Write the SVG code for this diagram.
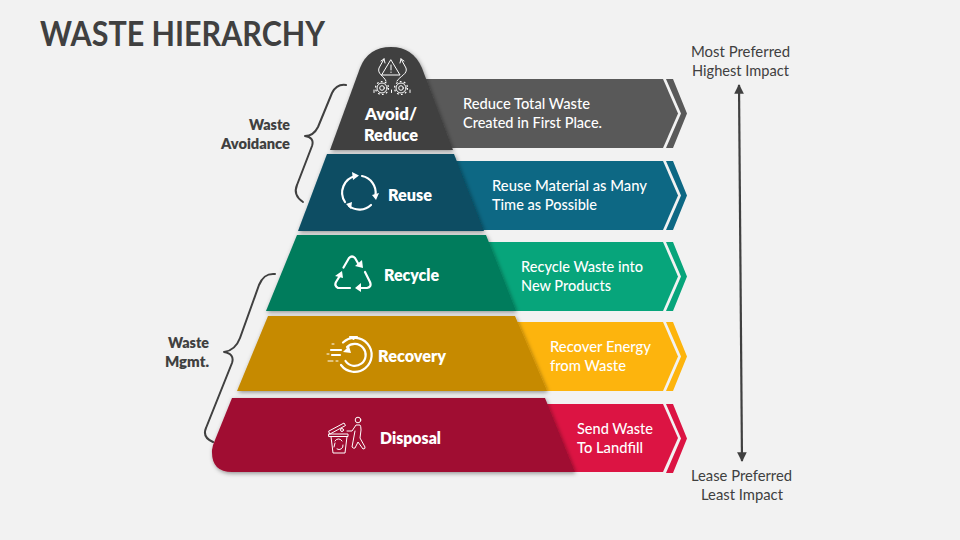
<svg xmlns="http://www.w3.org/2000/svg" width="960" height="540" viewBox="0 0 960 540">
<style>
text{font-family:"Lato","Liberation Sans",sans-serif}
.t{font-size:15px;fill:#fff;font-weight:500}
.b{font-size:16.5px;fill:#fff;font-weight:800}
.g{font-size:15px;fill:#404040}
.gb{font-size:15px;fill:#404040;font-weight:800}
.i{fill:none;stroke:#fff;stroke-width:2.200;stroke-linecap:round;stroke-linejoin:round}
.i1{fill:none;stroke:#fff;stroke-width:1;stroke-linecap:round;stroke-linejoin:round}
.teeth{fill:none;stroke:#fff;stroke-width:1.200;stroke-dasharray:1.800 2.290}
.f{fill:#fff}
.br{fill:none;stroke:#404040;stroke-width:2;stroke-linecap:round;stroke-linejoin:round}
.lay{filter:url(#sh)}
</style>
<defs>
<filter id="sh" x="-10%" y="-10%" width="120%" height="125%"><feDropShadow dx="1" dy="1.5" stdDeviation="2" flood-color="#000" flood-opacity=".4"/></filter>
<marker id="ah" viewBox="0 0 10 10" refX="9" refY="5" markerWidth="4.400" markerHeight="4.600" orient="auto-start-reverse"><path d="M0 0L10 5L0 10Z" fill="#404040"/></marker>
<path id="ch" d="M666 0H673L687 34.500L673 69H666L681 34.500Z"/>
</defs>
<rect width="960" height="540" fill="#f2f2f2"/>
<text x="40" y="46" font-size="35" font-weight="700" fill="#404040" textLength="285" lengthAdjust="spacingAndGlyphs">WASTE HIERARCHY</text>

<g id="connectors">
<path class="br" d="M346 85C339 84 335 87 332 93L318 127C315 133 311 136 305 136C311 137 314 140 312 146L297 185C294 192 297 198 303 202"/>
<path class="br" d="M275 274C266 273 262 278 259 285L240 338C237 346 232 351 224 352C231 353 234 357 232 363L206 428C203 435 206 439 213 442"/>
<line x1="739" y1="85" x2="742" y2="461" stroke="#404040" stroke-width="2.200" marker-start="url(#ah)" marker-end="url(#ah)"/>
</g>

<g id="node-avoid">
<path d="M420 79H663L678 113.500L663 148H420Z" fill="#595959"/>
<use href="#ch" y="79" fill="#595959"/>
<path class="lay" d="M330 150L360 68Q368 47 391 47Q413 47 422 68L453 150Z" fill="#404040"/>
<g id="icon-avoid">
<path class="i1" d="M391 60L400 75H382Z M391 65V70 M391 72V72.500"/>
<path class="i1" d="M384 59L379 68C377 74 384 76 386 81M384 59L381 61M384 59L385 63M401 59L406 68C408 74 400 76 397 81M401 59L404 61M401 59L400 63"/>
<circle class="i1" cx="382" cy="88" r="5"/><circle class="i1" cx="382" cy="88" r="2.300"/><circle class="teeth" cx="382" cy="88" r="6.500"/>
<circle class="i1" cx="401" cy="88" r="5"/><circle class="i1" cx="401" cy="88" r="2.300"/><circle class="teeth" cx="401" cy="88" r="6.500"/>
<path class="i1" d="M374 90V92.500M391.500 90V92.500M410 90V92.500"/>
</g>
<text class="b" x="391" y="120" text-anchor="middle" textLength="52" lengthAdjust="spacingAndGlyphs">Avoid/</text>
<text class="b" x="391" y="141" text-anchor="middle" textLength="54" lengthAdjust="spacingAndGlyphs">Reduce</text>
<text class="t" x="463" y="109" textLength="127" lengthAdjust="spacingAndGlyphs">Reduce Total Waste</text>
<text class="t" x="463" y="128" textLength="139" lengthAdjust="spacingAndGlyphs">Created in First Place.</text>
</g>

<g id="node-reuse">
<path d="M450 161H663L678 195.500L663 230H450Z" fill="#0d6884"/>
<use href="#ch" y="161" fill="#0d6884"/>
<path class="lay" d="M327 154H454L484 231H298Z" fill="#094e63"/>
<g id="icon-reuse">
<path class="i" d="M355.500 176A17 17 0 0 0 345 202M362 176A17 17 0 0 1 375.500 195M371 205A17 17 0 0 1 349 206"/>
<path class="f" d="M352 172L359 175.500L353 180ZM372 195L379 193L376 200ZM346 204L352 202L351 209Z"/>
</g>
<text class="b" x="388" y="201" textLength="44" lengthAdjust="spacingAndGlyphs">Reuse</text>
<text class="t" x="492" y="191" textLength="155" lengthAdjust="spacingAndGlyphs">Reuse Material as Many</text>
<text class="t" x="492" y="210" textLength="105" lengthAdjust="spacingAndGlyphs">Time as Possible</text>
</g>

<g id="node-recycle">
<path d="M480 242H663L678 276.500L663 311H480Z" fill="#07a57b"/>
<use href="#ch" y="242" fill="#07a57b"/>
<path class="lay" d="M297 235H486L516 311H266Z" fill="#067b5c"/>
<g id="icon-recycle">
<path class="i" d="M343.500 267.500L349 258Q352 255 355 258L359 265M341 274L336 282Q334 286 338 288H350M359 288H367Q372 287 370 282L365 272"/>
<path class="f" d="M355 266L363 268L362 260ZM335 276L342 271L343 278ZM361 283L355 288L361 292Z"/>
</g>
<text class="b" x="384" y="281" textLength="55" lengthAdjust="spacingAndGlyphs">Recycle</text>
<text class="t" x="521" y="272" textLength="122" lengthAdjust="spacingAndGlyphs">Recycle Waste into</text>
<text class="t" x="521" y="291" textLength="90" lengthAdjust="spacingAndGlyphs">New Products</text>
</g>

<g id="node-recovery">
<path d="M510 322H663L678 356.500L663 391H510Z" fill="#fdb40d"/>
<use href="#ch" y="322" fill="#fdb40d"/>
<path class="lay" d="M268 316H515L547 391H237Z" fill="#c68a00"/>
<g id="icon-recovery">
<path class="i" d="M343 342.500A17 17 0 1 1 341 365"/>
<path class="i" d="M347 347A11 11 0 1 1 345.500 361"/>
<path class="i" d="M350 337H357M353.500 337V339M331 350H341M332 355H340"/>
<path class="i1" d="M327 354H329M328 361H333M336 361H338M332 344H334"/>
<path class="f" d="M343 352L349 346L351 353Z"/>
</g>
<text class="b" x="378" y="362" textLength="68" lengthAdjust="spacingAndGlyphs">Recovery</text>
<text class="t" x="550" y="352" textLength="101" lengthAdjust="spacingAndGlyphs">Recover Energy</text>
<text class="t" x="550" y="371" textLength="76" lengthAdjust="spacingAndGlyphs">from Waste</text>
</g>

<g id="node-disposal">
<path d="M540 404H663L678 438L663 472H540Z" fill="#dc1443"/>
<use href="#ch" y="404" fill="#dc1443"/>
<path class="lay" d="M232 398H545L575 472H232Q211 472 212 450Q213 444 215 440Z" fill="#a00f32"/>
<g id="icon-disposal">
<path class="i1" d="M329 434H348V436.500H329ZM331 436.500L333 453H345L347 436.500"/>
<path class="i1" d="M329 431L344 423L345.500 425.500L330 434Z"/>
<path class="i1" d="M335 441A4 4 0 0 1 342 441M343 445A4 4 0 0 1 337 449M334 447L335 443"/>
<circle class="i1" cx="358" cy="420" r="2.800"/>
<path class="i1" d="M347 431H352L356 425H360Q361 426 361 430L360 438L365 447Q365.500 449 363 449L358 442L355 448Q354 449 352 447L353.500 439L355 431"/>
<circle class="i1" cx="342" cy="430" r="1.500"/>
</g>
<text class="b" x="380" y="444" textLength="61" lengthAdjust="spacingAndGlyphs">Disposal</text>
<text class="t" x="577" y="434" textLength="76" lengthAdjust="spacingAndGlyphs">Send Waste</text>
<text class="t" x="577" y="453" textLength="66" lengthAdjust="spacingAndGlyphs">To Landfill</text>
</g>

<g id="labels">
<text class="gb" x="290" y="130" text-anchor="end" textLength="41" lengthAdjust="spacingAndGlyphs">Waste</text>
<text class="gb" x="290" y="149" text-anchor="end" textLength="69" lengthAdjust="spacingAndGlyphs">Avoidance</text>
<text class="gb" x="209" y="348" text-anchor="end" textLength="41" lengthAdjust="spacingAndGlyphs">Waste</text>
<text class="gb" x="209" y="367" text-anchor="end" textLength="44" lengthAdjust="spacingAndGlyphs">Mgmt.</text>
<text class="g" x="691" y="57" textLength="99" lengthAdjust="spacingAndGlyphs">Most Preferred</text>
<text class="g" x="692" y="76" textLength="97" lengthAdjust="spacingAndGlyphs">Highest Impact</text>
<text class="g" x="691" y="481" textLength="101" lengthAdjust="spacingAndGlyphs">Lease Preferred</text>
<text class="g" x="701" y="500" textLength="82" lengthAdjust="spacingAndGlyphs">Least Impact</text>
</g>
</svg>
